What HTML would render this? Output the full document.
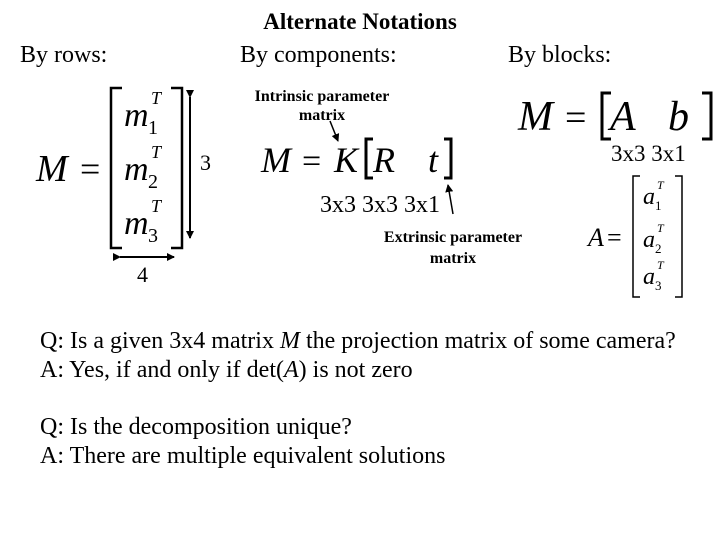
<!DOCTYPE html>
<html><head><style>html,body{margin:0;padding:0;background:#fff}svg{display:block;font-family:"Liberation Serif",serif}</style></head>
<body>
<svg width="720" height="540" viewBox="0 0 720 540" xmlns="http://www.w3.org/2000/svg" style="font-family:'Liberation Serif',serif" fill="#000">
<defs><marker id="ah" markerWidth="8" markerHeight="8" refX="7" refY="4" orient="auto" markerUnits="userSpaceOnUse"><path d="M0,0 L8,4 L0,8 z"/></marker></defs>
<text x="360" y="29" font-size="23" font-weight="bold" text-anchor="middle">Alternate Notations</text>
<text x="20" y="62" font-size="24">By rows:</text>
<text x="240" y="62" font-size="24">By components:</text>
<text x="508" y="62" font-size="24">By blocks:</text>

<!-- left matrix -->
<text x="36" y="181" font-size="38" font-style="italic">M</text>
<text x="80" y="181" font-size="36">=</text>
<path d="M122,88 H111 V248 H122 M171,88 H182 V248 H171" fill="none" stroke="#000" stroke-width="2.5"/>
<text x="124" y="126" font-size="34" font-style="italic">m</text><text x="151" y="104" font-size="18" font-style="italic">T</text><text x="148" y="134" font-size="20">1</text>
<text x="124" y="180" font-size="34" font-style="italic">m</text><text x="151" y="158" font-size="18" font-style="italic">T</text><text x="148" y="188" font-size="20">2</text>
<text x="124" y="234" font-size="34" font-style="italic">m</text><text x="151" y="212" font-size="18" font-style="italic">T</text><text x="148" y="242" font-size="20">3</text>
<line x1="190" y1="97" x2="190" y2="238" stroke="#000" stroke-width="2" marker-start="url(#ah)" marker-end="url(#ah)"/>
<text x="200" y="170" font-size="22">3</text>
<line x1="120" y1="257" x2="174" y2="257" stroke="#000" stroke-width="2" marker-start="url(#ah)" marker-end="url(#ah)"/>
<text x="137" y="282" font-size="22">4</text>

<!-- middle -->
<text x="322" y="101" font-size="16" font-weight="bold" text-anchor="middle">Intrinsic parameter</text>
<text x="322" y="120" font-size="16" font-weight="bold" text-anchor="middle">matrix</text>
<line x1="330" y1="121" x2="338" y2="141" stroke="#000" stroke-width="1.5" marker-end="url(#ah)"/>
<text x="261" y="172" font-size="36" font-style="italic">M</text>
<text x="302" y="172" font-size="34">=</text>
<text x="334" y="172" font-size="36" font-style="italic">K</text>
<path d="M373,139 H366 V178 H373 M444,139 H451 V178 H444" fill="none" stroke="#000" stroke-width="3"/>
<text x="373" y="172" font-size="36" font-style="italic">R</text>
<text x="428" y="172" font-size="36" font-style="italic">t</text>
<text x="320" y="212" font-size="24">3x3 3x3 3x1</text>
<line x1="453" y1="214" x2="448" y2="185" stroke="#000" stroke-width="1.5" marker-end="url(#ah)"/>
<text x="453" y="242" font-size="16" font-weight="bold" text-anchor="middle">Extrinsic parameter</text>
<text x="453" y="263" font-size="16" font-weight="bold" text-anchor="middle">matrix</text>

<!-- right -->
<text x="518" y="130" font-size="42" font-style="italic">M</text>
<text x="565" y="130" font-size="38">=</text>
<path d="M611,93 H602 V139 H611 M702,93 H711 V139 H702" fill="none" stroke="#000" stroke-width="3"/>
<text x="610" y="130" font-size="42" font-style="italic">A</text>
<text x="668" y="130" font-size="42" font-style="italic">b</text>
<text x="611" y="161" font-size="23">3x3 3x1</text>
<text x="588" y="246" font-size="26" font-style="italic">A</text>
<text x="607" y="246" font-size="26">=</text>
<path d="M640,176 H633 V297 H640 M675,176 H682 V297 H675" fill="none" stroke="#000" stroke-width="1.5"/>
<text x="643" y="204" font-size="24" font-style="italic">a</text><text x="657" y="189" font-size="12" font-style="italic">T</text><text x="655" y="210" font-size="13">1</text>
<text x="643" y="247" font-size="24" font-style="italic">a</text><text x="657" y="232" font-size="12" font-style="italic">T</text><text x="655" y="253" font-size="13">2</text>
<text x="643" y="284" font-size="24" font-style="italic">a</text><text x="657" y="269" font-size="12" font-style="italic">T</text><text x="655" y="290" font-size="13">3</text>

<!-- bottom -->
<text x="40" y="348" font-size="24">Q: Is a given 3x4 matrix <tspan font-style="italic">M</tspan> the projection matrix of some camera?</text>
<text x="40" y="377" font-size="24">A: Yes, if and only if det(<tspan font-style="italic">A</tspan>) is not zero</text>
<text x="40" y="434" font-size="24">Q: Is the decomposition unique?</text>
<text x="40" y="463" font-size="24">A: There are multiple equivalent solutions</text>
</svg>
</body></html>
